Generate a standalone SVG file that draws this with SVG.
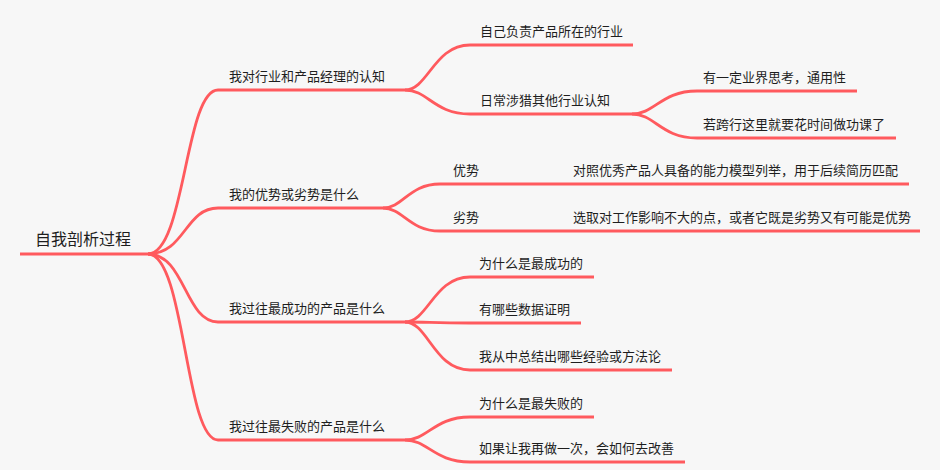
<svg xmlns="http://www.w3.org/2000/svg" width="940" height="470" viewBox="0 0 940 470">
<style>
.bg{fill:#f7f7f7}
.ln{fill:none;stroke:#ff5a5e;stroke-width:2.8;stroke-linecap:butt}
.t{font-family:"Noto Sans CJK SC","Noto Sans",sans-serif;font-size:13px;fill:#1e1e1e}
.root{font-size:16px}
</style>
<rect class="bg" x="0" y="0" width="940" height="470"/>
<g id="connectors">
<path class="ln" d="M148,254 C185,254 185,90 218,90"/>
<path class="ln" d="M148,254 C185,254 185,208 218,208"/>
<path class="ln" d="M148,254 C185,254 185,322 218,322"/>
<path class="ln" d="M148,254 C185,254 185,440 218,440"/>
<path class="ln" d="M405,90 C428,90 434,45 470,45"/>
<path class="ln" d="M405,90 C428,90 434,114 470,114"/>
<path class="ln" d="M632,114 C655,114 661,91 697,91"/>
<path class="ln" d="M632,114 C655,114 661,138 697,138"/>
<path class="ln" d="M383,208 C403,208 409,184 440,184"/>
<path class="ln" d="M383,208 C403,208 409,231 440,231"/>
<path class="ln" d="M490,184 L563,184"/>
<path class="ln" d="M490,231 L563,231"/>
<path class="ln" d="M405,322 C428,322 434,277 470,277"/>
<path class="ln" d="M405,322 C428,322 434,323 470,323"/>
<path class="ln" d="M405,322 C428,322 434,370 470,370"/>
<path class="ln" d="M405,440 C428,440 434,417 470,417"/>
<path class="ln" d="M405,440 C428,440 434,462 470,462"/>
</g>
<g id="root"><text class="t root" x="35" y="245">自我剖析过程</text><path class="ln" d="M20,254 H148"/></g>
<g id="n1"><text class="t" x="229" y="80.5">我对行业和产品经理的认知</text><path class="ln" d="M218,90 H405"/></g>
<g id="n1a"><text class="t" x="480" y="35.5">自己负责产品所在的行业</text><path class="ln" d="M470,45 H633"/></g>
<g id="n1b"><text class="t" x="480" y="104.5">日常涉猎其他行业认知</text><path class="ln" d="M470,114 H632"/></g>
<g id="n1b1"><text class="t" x="703" y="81.5">有一定业界思考，通用性</text><path class="ln" d="M697,91 H857"/></g>
<g id="n1b2"><text class="t" x="703" y="128.5">若跨行这里就要花时间做功课了</text><path class="ln" d="M697,138 H896"/></g>
<g id="n2"><text class="t" x="229" y="198.5">我的优势或劣势是什么</text><path class="ln" d="M218,208 H383"/></g>
<g id="n2a"><text class="t" x="453" y="174.5">优势</text><path class="ln" d="M440,184 H490"/></g>
<g id="n2a1"><text class="t" x="573" y="174.5">对照优秀产品人具备的能力模型列举，用于后续简历匹配</text><path class="ln" d="M563,184 H909"/></g>
<g id="n2b"><text class="t" x="453" y="221.5">劣势</text><path class="ln" d="M440,231 H490"/></g>
<g id="n2b1"><text class="t" x="573" y="221.5">选取对工作影响不大的点，或者它既是劣势又有可能是优势</text><path class="ln" d="M563,231 H920"/></g>
<g id="n3"><text class="t" x="229" y="312.5">我过往最成功的产品是什么</text><path class="ln" d="M218,322 H405"/></g>
<g id="n3a"><text class="t" x="479" y="267.5">为什么是最成功的</text><path class="ln" d="M470,277 H594"/></g>
<g id="n3b"><text class="t" x="479" y="313.5">有哪些数据证明</text><path class="ln" d="M470,323 H581"/></g>
<g id="n3c"><text class="t" x="479" y="360.5">我从中总结出哪些经验或方法论</text><path class="ln" d="M470,370 H672"/></g>
<g id="n4"><text class="t" x="229" y="430.5">我过往最失败的产品是什么</text><path class="ln" d="M218,440 H405"/></g>
<g id="n4a"><text class="t" x="479" y="407.5">为什么是最失败的</text><path class="ln" d="M470,417 H594"/></g>
<g id="n4b"><text class="t" x="479" y="452.5">如果让我再做一次，会如何去改善</text><path class="ln" d="M470,462 H685"/></g>
</svg>
